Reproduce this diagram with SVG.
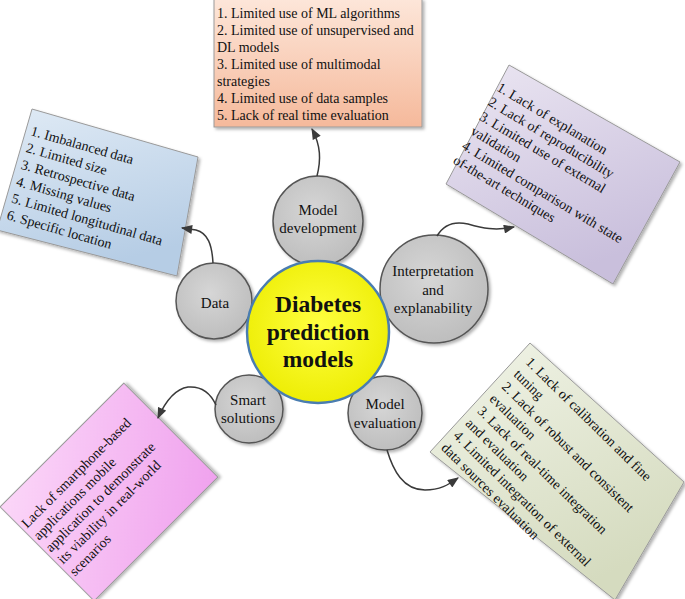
<svg xmlns="http://www.w3.org/2000/svg" width="685" height="599" viewBox="0 0 685 599">
<defs>
  <linearGradient id="gOr" x1="0" y1="0" x2="0" y2="1"><stop offset="0" stop-color="#fde6d9"/><stop offset="1" stop-color="#f5b99b"/></linearGradient>
  <linearGradient id="gBl" x1="0" y1="0" x2="0.3" y2="1"><stop offset="0" stop-color="#dfeaf5"/><stop offset="1" stop-color="#b6cde5"/></linearGradient>
  <linearGradient id="gPu" x1="0" y1="0" x2="0.4" y2="1"><stop offset="0" stop-color="#ebe6f2"/><stop offset="1" stop-color="#c9bfdc"/></linearGradient>
  <linearGradient id="gPi" x1="0" y1="0" x2="1" y2="1"><stop offset="0" stop-color="#fbd6f8"/><stop offset="1" stop-color="#f0a2ee"/></linearGradient>
  <linearGradient id="gGr" x1="0" y1="0" x2="0.5" y2="1"><stop offset="0" stop-color="#f1f4e8"/><stop offset="1" stop-color="#d5dbbf"/></linearGradient>
  <radialGradient id="gGrey" cx="0.45" cy="0.4" r="0.65"><stop offset="0" stop-color="#d6d6d6"/><stop offset="1" stop-color="#bcbcbc"/></radialGradient>
  <radialGradient id="gYel" cx="0.5" cy="0.45" r="0.6"><stop offset="0" stop-color="#ffff40"/><stop offset="1" stop-color="#ecec00"/></radialGradient>
  <marker id="arr" viewBox="0 0 10 8" refX="9" refY="4" markerWidth="12" markerHeight="9" markerUnits="userSpaceOnUse" orient="auto"><path d="M0,0 L10,4 L0,8 z" fill="#3a3a3a"/></marker>
  <filter id="sh" x="-10%" y="-10%" width="130%" height="130%"><feDropShadow dx="2" dy="2" stdDeviation="1.5" flood-color="#000" flood-opacity="0.3"/></filter>
</defs>
<style>
  .box{stroke:#9a9a9a;stroke-width:1;filter:url(#sh)}
  .bt{font-family:'Liberation Serif','DejaVu Serif',serif;font-size:14px;fill:#111}
  .ct{font-family:'Liberation Serif','DejaVu Serif',serif;font-size:15px;fill:#111;text-anchor:middle}
  .mt{font-family:'Liberation Serif','DejaVu Serif',serif;font-size:23.5px;font-weight:bold;fill:#111;text-anchor:middle}
  .circ{fill:url(#gGrey);stroke:#555;stroke-width:1.5;filter:url(#sh)}
  .con{fill:none;stroke:#3a3a3a;stroke-width:1.5;marker-end:url(#arr)}
</style>

<g id="box-model-development">
  <rect class="box" x="214" y="-1" width="208" height="128" fill="url(#gOr)"/>
  <text class="bt">
    <tspan x="217" y="18">1. Limited use of ML algorithms</tspan>
    <tspan x="217" y="35">2. Limited use of unsupervised and</tspan>
    <tspan x="217" y="52">DL models</tspan>
    <tspan x="217" y="69">3. Limited use of multimodal</tspan>
    <tspan x="217" y="86">strategies</tspan>
    <tspan x="217" y="103">4. Limited use of data samples</tspan>
    <tspan x="217" y="120">5. Lack of real time evaluation</tspan>
  </text>
</g>

<g id="box-data">
  <polygon class="box" points="32,109 198,157 177,276 -3,230" fill="url(#gBl)"/>
  <text class="bt" transform="translate(30,135) rotate(16)">
    <tspan x="0" y="0">1. Imbalanced data</tspan>
    <tspan x="0" y="17.5">2. Limited size</tspan>
    <tspan x="0" y="35">3. Retrospective data</tspan>
    <tspan x="0" y="52.5">4. Missing values</tspan>
    <tspan x="0" y="70">5. Limited longitudinal data</tspan>
    <tspan x="0" y="87.5">6. Specific location</tspan>
  </text>
</g>

<g id="box-interpretation">
  <polygon class="box" points="509,65 680,162 613,284 446,184" fill="url(#gPu)"/>
  <text class="bt" transform="translate(496,90) rotate(31)">
    <tspan x="0" y="0">1. Lack of explanation</tspan>
    <tspan x="0" y="17">2. Lack of reproducibility</tspan>
    <tspan x="0" y="34">3. Limited use of external</tspan>
    <tspan x="0" y="51">validation</tspan>
    <tspan x="0" y="68">4. Limited comparison with state</tspan>
    <tspan x="0" y="85">of-the-art techniques</tspan>
  </text>
</g>

<g id="box-model-evaluation">
  <polygon class="box" points="530,343 684,482 615,600 430,452" fill="url(#gGr)"/>
  <text class="bt" transform="translate(525,363) rotate(44.5)">
    <tspan x="0" y="0">1. Lack of calibration and fine</tspan>
    <tspan x="0" y="17.2">tuning</tspan>
    <tspan x="0" y="34.4">2. Lack of robust and consistent</tspan>
    <tspan x="0" y="51.6">evaluation</tspan>
    <tspan x="0" y="68.8">3. Lack of real-time integration</tspan>
    <tspan x="0" y="86">and evaluation</tspan>
    <tspan x="0" y="103.2">4. Limited integration of external</tspan>
    <tspan x="0" y="120.4">data sources evaluation</tspan>
  </text>
</g>

<g id="box-smart-solutions" transform="translate(109,492) rotate(-45)">
  <rect class="box" x="-87.5" y="-66.5" width="175" height="133" fill="url(#gPi)"/>
  <text class="bt">
    <tspan x="-84" y="-32">Lack of smartphone-based</tspan>
    <tspan x="-84" y="-15">applications mobile</tspan>
    <tspan x="-84" y="2">application to demonstrate</tspan>
    <tspan x="-84" y="19">its viability in real-world</tspan>
    <tspan x="-84" y="36">scenarios</tspan>
  </text>
</g>

<g id="node-model-development">
  <circle class="circ" cx="318" cy="221" r="45"/>
  <text class="ct"><tspan x="318" y="215">Model</tspan><tspan x="318" y="233">development</tspan></text>
</g>
<g id="node-data">
  <circle class="circ" cx="214" cy="301" r="38"/>
  <text class="ct" x="215" y="308">Data</text>
</g>
<g id="node-interpretation">
  <circle class="circ" cx="434" cy="289" r="54"/>
  <text class="ct"><tspan x="433" y="276">Interpretation</tspan><tspan x="433" y="294.5">and</tspan><tspan x="433" y="313">explanability</tspan></text>
</g>
<g id="node-smart-solutions">
  <circle class="circ" cx="249" cy="409" r="34"/>
  <text class="ct"><tspan x="248" y="405">Smart</tspan><tspan x="248" y="423">solutions</tspan></text>
</g>
<g id="node-model-evaluation">
  <circle class="circ" cx="385" cy="413" r="37"/>
  <text class="ct"><tspan x="385" y="409">Model</tspan><tspan x="385" y="428">evaluation</tspan></text>
</g>
<g id="node-center">
  <circle cx="318" cy="332" r="71" fill="url(#gYel)" stroke="#4a7db0" stroke-width="2.5"/>
  <text class="mt"><tspan x="318" y="312">Diabetes</tspan><tspan x="318" y="339.5">prediction</tspan><tspan x="318" y="367">models</tspan></text>
</g>

<g id="connectors">
  <path class="con" d="M317,176 C321,160 321,146 312,129"/>
  <path class="con" d="M213,263 C212,245 208,233 196,230 L182,228"/>
  <path class="con" d="M437,236 C444,224 455,221 468,224 C482,228 495,231 514,227"/>
  <path class="con" d="M387,450 C393,470 403,490 425,490 C440,490 448,485 458,478"/>
  <path class="con" d="M216,405 C210,392 200,386 188,387 C175,389 166,400 158,418"/>
</g>
</svg>
